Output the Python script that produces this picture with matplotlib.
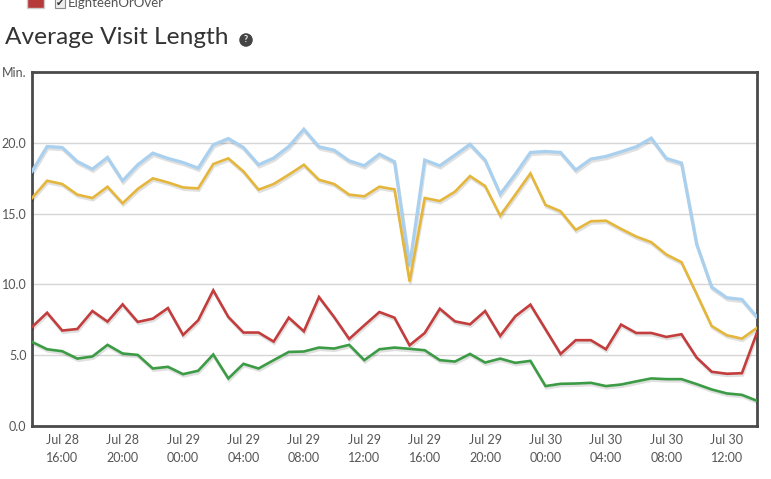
import numpy as np
import pandas as pd
import matplotlib
matplotlib.use("Agg")
import matplotlib.pyplot as plt
import matplotlib.dates as mdates
import matplotlib.patheffects as pe

# hourly samples, Jul 28 14:00 -> Jul 30 14:00
times = pd.date_range("2014-07-28 14:00", periods=49, freq="h")

blue = [17.98, 19.74, 19.67, 18.68, 18.14, 18.97, 17.32, 18.45, 19.27, 18.90,
        18.61, 18.21, 19.86, 20.30, 19.67, 18.45, 18.92, 19.74, 20.96, 19.72,
        19.48, 18.73, 18.38, 19.20, 18.66, 11.30, 18.78, 18.38, 19.13, 19.90,
        18.78, 16.38, 17.79, 19.32, 19.39, 19.32, 18.08, 18.85, 19.04, 19.37,
        19.72, 20.33, 18.90, 18.57, 12.86, 9.81, 9.06, 8.94, 7.70]
yellow = [16.10, 17.32, 17.09, 16.34, 16.10, 16.90, 15.73, 16.74, 17.49, 17.20,
          16.85, 16.78, 18.50, 18.90, 17.98, 16.69, 17.09, 17.75, 18.45, 17.39,
          17.09, 16.34, 16.22, 16.90, 16.71, 10.20, 16.10, 15.89, 16.55, 17.65,
          16.95, 14.86, 16.34, 17.84, 15.61, 15.16, 13.85, 14.46, 14.50, 13.92,
          13.38, 12.98, 12.11, 11.57, 9.34, 7.06, 6.41, 6.17, 6.93]
red = [6.99, 8.00, 6.74, 6.85, 8.12, 7.37, 8.59, 7.35, 7.58, 8.33,
       6.43, 7.46, 9.58, 7.70, 6.60, 6.60, 5.96, 7.65, 6.69, 9.11,
       7.70, 6.15, 7.11, 8.05, 7.65, 5.70, 6.57, 8.28, 7.39, 7.18,
       8.12, 6.36, 7.75, 8.57, 6.83, 5.09, 6.06, 6.06, 5.42, 7.16,
       6.57, 6.57, 6.29, 6.48, 4.84, 3.83, 3.69, 3.73, 6.60]
green = [5.94, 5.42, 5.28, 4.76, 4.91, 5.73, 5.12, 5.02, 4.06, 4.18,
         3.66, 3.90, 5.05, 3.36, 4.39, 4.06, 4.65, 5.23, 5.26, 5.54,
         5.47, 5.73, 4.65, 5.42, 5.54, 5.45, 5.35, 4.65, 4.55, 5.09,
         4.48, 4.76, 4.46, 4.60, 2.82, 2.98, 3.00, 3.05, 2.82, 2.93,
         3.15, 3.36, 3.31, 3.31, 2.96, 2.58, 2.30, 2.20, 1.78]

tick_times = pd.date_range("2014-07-28 16:00", periods=12, freq="4h")
yticks = [0, 5, 10, 15, 20, 25]
ytick_labels = ["0.0", "5.0", "10.0", "15.0", "20.0", "Min."]

plt.rcParams["font.family"] = ["Lato", "DejaVu Sans"]

fig = plt.figure(figsize=(7.71, 4.79), dpi=100)
ax = fig.add_axes([32 / 771, 53 / 479, 725 / 771, 354 / 479])

shadow = [pe.SimpleLineShadow(offset=(0.6, -1.6), shadow_color="#000000", alpha=0.12), pe.Normal()]
series = [(blue, "#a9d0ee", 2.3), (yellow, "#e5b63c", 1.9), (red, "#c33d3d", 1.9), (green, "#3c9b45", 1.9)]
for vals, col, lw in series:
    ax.plot(times, vals, color=col, lw=lw, solid_joinstyle="miter", path_effects=shadow, zorder=3)

ax.set_xlim(times[0], times[-1])
ax.set_ylim(0, 25)
ax.set_yticks(yticks)
ax.set_yticklabels(ytick_labels)
for y in yticks[1:-1]:
    ax.axhline(y, color="#d6d6d6", lw=1, zorder=1)

ax.set_xticks(tick_times)
ax.xaxis.set_major_formatter(mdates.DateFormatter("%b %d\n%H:%M"))
ax.tick_params(axis="both", length=0, labelsize=9, colors="#555555")
ax.tick_params(axis="x", pad=6)
ax.tick_params(axis="y", pad=4)
for lbl in ax.get_xticklabels():
    lbl.set_linespacing(1.6)

for s in ax.spines.values():
    s.set_color("#4a4a4a")
    s.set_linewidth(2)

# title and help icon
fig.text(5 / 771, 1 - 38 / 479, "Average Visit Length", fontsize=17.6, color="#333333",
         va="center", ha="left")
fig.text(246 / 771, 1 - 40 / 479, "?", fontsize=6.5, color="white", fontweight="bold",
         ha="center", va="center",
         bbox=dict(boxstyle="circle,pad=0.25", fc="#444444", ec="none"))

# cut-off legend at the top
fig.patches.append(plt.Rectangle((27 / 771, 1 - 8 / 479), 17 / 771, 14 / 479,
                                 transform=fig.transFigure, fc="#b73a3a", ec="#cccccc", lw=1))
fig.patches.append(plt.Rectangle((55 / 771, 1 - 8 / 479), 10 / 771, 12 / 479,
                                 transform=fig.transFigure, fc="#eeeeee", ec="#888888", lw=0.8))
fig.text(56 / 771, 1 - 3 / 479, "✔", fontsize=7, color="#333333", ha="left", va="center",
         family=["DejaVu Sans"])
fig.text(68 / 771, 1 - 3 / 479, "EighteenOrOver", fontsize=9.5, color="#555555", ha="left", va="center")

fig.savefig("out.png", dpi=100)
